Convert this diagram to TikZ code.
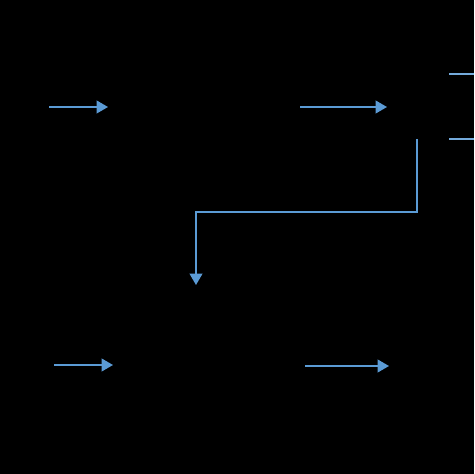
\documentclass[tikz,border=0pt]{standalone}
\usepackage{tikz}
\usetikzlibrary{positioning, arrows.meta}

\definecolor{flowblue}{HTML}{5B9BD5}

\begin{document}
\begin{tikzpicture}[
    x=0.03cm, y=0.03cm,
    arrow/.style={-{Triangle[length=3.4mm, width=3.8mm]}, draw=flowblue, line width=1.5pt},
    link/.style={draw=flowblue!85!white, line width=1.5pt}
]

% --- Fondo
\fill[black] (0,0) rectangle (474,474);
\useasboundingbox (0,0) rectangle (474,474);

% --- Puntos fila superior
\coordinate (entrada) at (49,367);
\coordinate (bloqueA) at (108,367);
\coordinate (salidaA) at (300,367);
\coordinate (bloqueB) at (387,367);
\coordinate (salidaB) at (417,335);
\coordinate (codo) at (196,262);
\coordinate (bloqueC) at (196,189);

% --- Puntos lado derecho
\coordinate (ramaArriba) at (449,400);
\coordinate (finArriba) at (474,400);
\coordinate (ramaAbajo) at (449,335);
\coordinate (finAbajo) at (474,335);

% --- Puntos fila inferior
\coordinate (entradaD) at (54,109);
\coordinate (bloqueD) at (113,109);
\coordinate (salidaD) at (305,108);
\coordinate (bloqueE) at (389,108);

% --- Flechas principales
\draw[arrow] (entrada) -- (bloqueA);
\draw[arrow] (salidaA) -- (bloqueB);
\draw[arrow] (salidaB) |- (codo) -- (bloqueC);

% Lineas que salen por la derecha
\draw[link] (ramaArriba) -- (finArriba);
\draw[link] (ramaAbajo) -- (finAbajo);

% Flechas fila inferior
\draw[arrow] (entradaD) -- (bloqueD);
\draw[arrow] (salidaD) -- (bloqueE);

\end{tikzpicture}
\end{document}
